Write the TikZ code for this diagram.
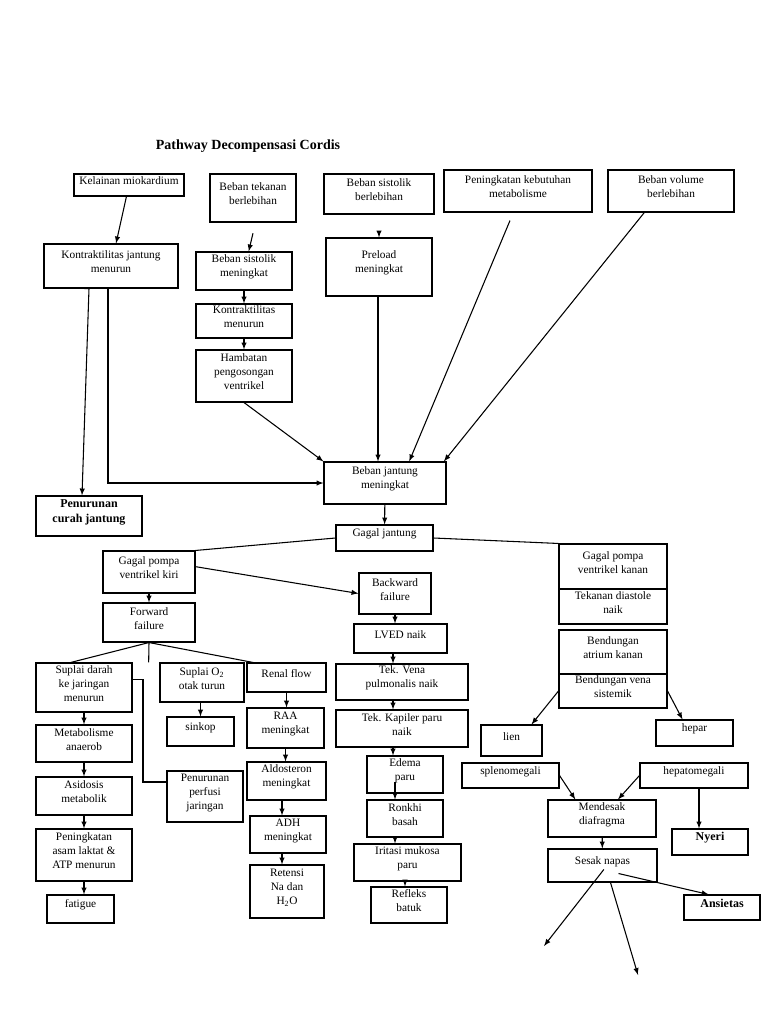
\documentclass[tikz,border=0pt]{standalone}
\usepackage{fontspec}
\setmainfont{Liberation Serif}
\usetikzlibrary{fit}
\tikzset{
  box/.style={draw, thick, inner sep=0pt, align=center, font=\fontsize{8.5}{10.5}\selectfont},
  bbox/.style={box, font=\bfseries\fontsize{9}{11}\selectfont},
  lbox/.style={box, align=left},
  arr/.style={thick, -latex},
  ln/.style={thick}
}
\begin{document}
\begin{tikzpicture}[x=0.75pt, y=-0.75pt]
\useasboundingbox[fill=white] (0,0) rectangle (768,1024);
\node[font=\bfseries\fontsize{10.5}{12}\selectfont] (title) at (248,146) {Pathway Decompensasi Cordis};

% top row
\node[box, fit={(74,174)(184,196)}] (kel) {Kelainan miokardium};
\node[box, fit={(210,174)(296,222)}] (btek) {Beban tekanan\\berlebihan\\[8pt]};
\node[box, fit={(324,174)(434,214)}] (bsis) {Beban sistolik\\berlebihan};
\node[box, fit={(444,170)(592,212)}] (pkeb) {Peningkatan kebutuhan\\metabolisme\\[6pt]};
\node[box, fit={(608,170)(734,212)}] (bvol) {Beban volume\\berlebihan\\[6pt]};

\node[box, fit={(44,244)(178,288)}] (kon1) {Kontraktilitas jantung\\menurun\\[8pt]};
\node[box, fit={(196,252)(292,290)}] (bsis2) {Beban sistolik\\meningkat};
\node[box, fit={(326,238)(432,296)}] (pre) {Preload\\meningkat};
\node[box, fit={(196,304)(292,338)}] (kon2) {Kontraktilitas\\menurun};
\node[box, fit={(196,350)(292,402)}] (hamb) {Hambatan\\pengosongan\\ventrikel};

\node[box, fit={(324,462)(446,504)}] (bj) {Beban jantung\\meningkat};
\node[bbox, fit={(36,496)(142,536)}] (pcj) {Penurunan\\curah jantung};
\node[box, fit={(336,525)(433,551)}] (gj) {Gagal jantung};

% left branch
\node[box, fit={(103,551)(195,593)}] (gki) {Gagal pompa\\ventrikel kiri};
\node[box, fit={(103,603)(195,642)}] (fw) {Forward\\failure};
\node[box, fit={(36,663)(132,712)}] (sd) {Suplai darah\\ke jaringan\\menurun};
\node[lbox, fit={(160,663)(244,702)}] (so) {Suplai O\textsubscript{2}\\otak turun\\[4pt]};
\node[box, fit={(247,663)(326,692)}] (rf) {Renal flow\\[6pt]};
\node[lbox, fit={(36,725)(132,762)}] (ma) {Metabolisme\\anaerob};
\node[box, fit={(167,717)(234,746)}] (sk) {sinkop\\[4pt]};
\node[lbox, fit={(247,708)(324,748)}] (raa) {RAA\\meningkat};
\node[box, fit={(36,777)(132,815)}] (as) {Asidosis\\metabolik};
\node[lbox, fit={(167,771)(243,822)}] (pp) {Penurunan\\perfusi\\jaringan};
\node[box, fit={(247,762)(326,800)}] (ald) {Aldosteron\\meningkat};
\node[lbox, fit={(36,829)(132,881)}] (pal) {Peningkatan\\asam laktat \&\\ATP menurun};
\node[box, fit={(250,816)(326,853)}] (adh) {ADH\\meningkat};
\node[box, fit={(47,895)(114,923)}] (fat) {fatigue\\[4pt]};
\node[box, fit={(250,865)(324,918)}] (ret) {Retensi\\Na dan\\H\textsubscript{2}O};

% middle branch
\node[box, fit={(359,573)(431,614)}] (bw) {Backward\\failure\\[4pt]};
\node[box, fit={(354,624)(447,653)}] (lv) {LVED naik\\[4pt]};
\node[box, fit={(336,664)(468,700)}] (tv) {Tek. Vena\\pulmonalis naik};
\node[box, fit={(336,710)(468,747)}] (tk) {Tek. Kapiler paru\\naik};
\node[box, fit={(367,756)(443,793)}] (ed) {Edema\\paru};
\node[box, fit={(367,800)(443,837)}] (rb) {Ronkhi\\basah};
\node[box, fit={(354,844)(461,881)}] (im) {Iritasi mukosa\\paru};
\node[box, fit={(371,887)(447,923)}] (rfx) {Refleks\\batuk};

% right branch
\node[box, fit={(559,544)(667,589)}] (gka) {Gagal pompa\\ventrikel kanan\\[4pt]};
\node[box, fit={(559,589)(667,624)}] (tdn) {Tekanan diastole\\naik};
\node[box, fit={(559,630)(667,674)}] (ba) {Bendungan\\atrium kanan\\[4pt]};
\node[box, fit={(559,674)(667,708)}] (bv) {Bendungan vena\\sistemik};
\node[box, fit={(481,725)(542,756)}] (lien) {lien\\[4pt]};
\node[box, fit={(656,720)(733,746)}] (hep) {hepar\\[4pt]};
\node[box, fit={(462,763)(559,788)}] (spl) {splenomegali\\[3pt]};
\node[box, fit={(640,763)(748,788)}] (hpm) {hepatomegali\\[3pt]};
\node[box, fit={(548,800)(656,837)}] (md) {Mendesak\\diafragma};
\node[bbox, fit={(672,829)(748,855)}] (ny) {Nyeri};
\node[box, fit={(548,849)(657,882)}] (ss) {Sesak napas\\[10pt]};
\node[bbox, fit={(684,895)(760,920)}] (ans) {Ansietas};
\coordinate (o1) at (544,946);
\coordinate (o2) at (638,975);

% connectors
\draw[arr] (kel) -- (kon1);
\draw[arr] ([xshift=-20pt]kon1.south) -- (kon1.south -| pcj.north) ++(0,0) -- ([xshift=0pt]pcj.north -| 82,0);
\draw[arr] ([xshift=0pt]kon1.south -| 108,0) |- (bj.west);
\draw[arr] ([yshift=-8pt]btek.south) -- (bsis2);
\draw[arr] (bsis2) -- (kon2);
\draw[arr] (kon2) -- (hamb);
\draw[arr] (hamb.south) -- (bj.north west);
\draw[arr] (bsis.south -| pre.north) ++(0,18) -- (pre.north);
\draw[arr] (pre.south -| 378,0) -- (bj.north -| 378,0);
\draw[arr] ([xshift=-6pt]pkeb.south) ++(0,8) -- ([xshift=-28pt]bj.north east);
\draw[arr] ([xshift=-20pt]bvol.south) -- ([xshift=-2pt]bj.north east);
\draw[arr] (bj) -- (gj);
\draw[ln] (gj.west) -- (gki.north east);
\draw[ln] (gj.east) -- (gka.north west);
\draw[arr] ([yshift=4pt]gki.east) -- (bw.west);
\draw[arr] (gki) -- (fw);
\draw[ln] (fw.south) -- ([xshift=-10pt]sd.north);
\draw[ln] (fw.south) -- ([xshift=-40pt]so.north);
\draw[ln] (fw.south) -- ([xshift=-25pt]rf.north);
\draw[ln] ([yshift=6pt]sd.east) -| (143,782) -- (pp.west |- 0,782);
\draw[arr] (sd) -- (ma);
\draw[arr] (ma) -- (as);
\draw[arr] (as) -- (pal);
\draw[arr] (pal) -- (pal.south |- fat.north);
\draw[arr] (so.south -| sk.north) -- (sk.north);
\draw[arr] (rf) -- (rf.south |- raa.north);
\draw[arr] (raa) -- (raa.south |- ald.north);
\draw[arr] (ald.south -| 282,0) -- (adh.north -| 282,0);
\draw[arr] (adh.south -| 282,0) -- (ret.north -| 282,0);
\draw[arr] (bw.south -| 395,0) -- (lv.north -| 395,0);
\draw[arr] (lv.south -| 393,0) -- (tv.north -| 393,0);
\draw[arr] (tv.south -| 393,0) -- (tk.north -| 393,0);
\draw[arr] (tk.south -| 393,0) -- (ed.north -| 393,0);
\draw[arr] (ed.south -| 395,0) ++(0,-12) -- (rb.north -| 395,0);
\draw[arr] (rb.south -| 395,0) -- (im.north -| 395,0);
\draw[arr] (im.south -| 405,0) -- (rfx.north -| 405,0);
\draw[arr] (bv.west) -- ([xshift=15pt]lien.north);
\draw[arr] (bv.east) -- ([xshift=-9pt]hep.north);
\draw[arr] (spl.east) -- ([xshift=-20pt]md.north);
\draw[arr] (hpm.west) -- ([xshift=12pt]md.north);
\draw[arr] (hpm.south -| 699,0) -- (ny.north -| 699,0);
\draw[arr] (md) -- (ss);
\draw[arr] ([xshift=12pt,yshift=-6pt]ss.center) -- ([xshift=-10pt]ans.north);
\draw[arr] ([xshift=1pt,yshift=-3pt]ss.center) -- (o1);
\draw[arr] ([xshift=6pt]ss.south) -- (o2);
\end{tikzpicture}
\end{document}
